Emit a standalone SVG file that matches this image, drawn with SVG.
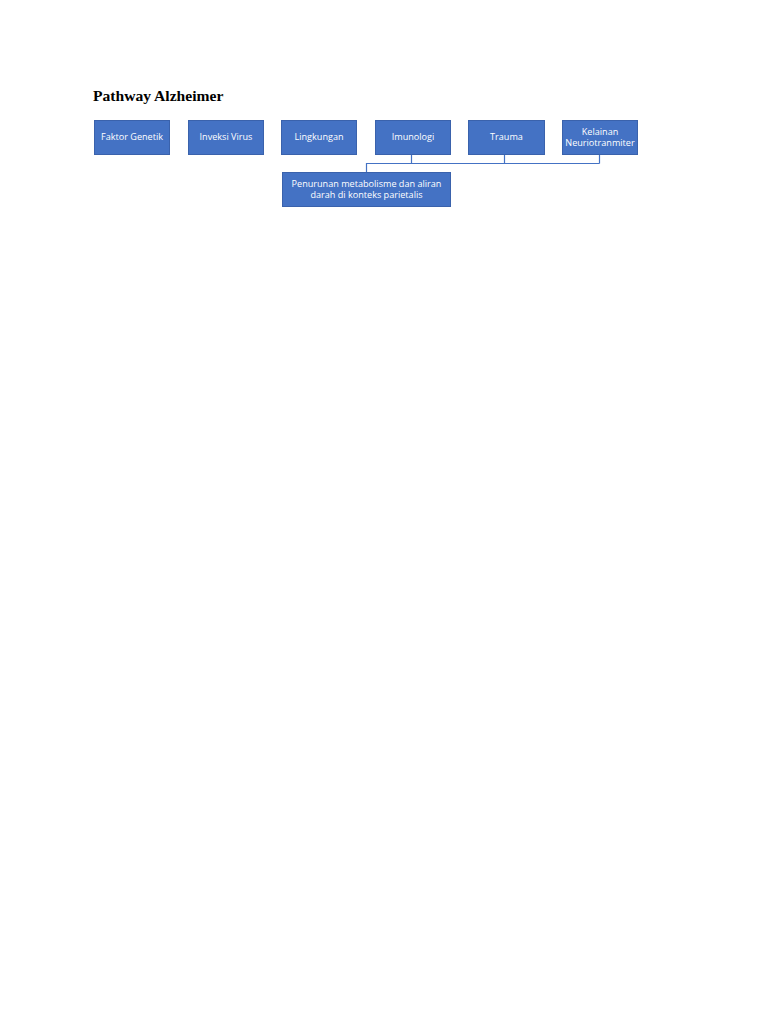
<svg xmlns="http://www.w3.org/2000/svg" width="768" height="1024" viewBox="0 0 768 1024">
<style>
.box{fill:#4472C4;stroke:#3A62AC;stroke-width:1}
.lbl{font-family:"Open Sans","Noto Sans","Liberation Sans",sans-serif;font-size:9.1px;fill:#ffffff;text-anchor:middle}
.conn{fill:none;stroke:#4472C4;stroke-width:1.2}
</style>
<rect width="768" height="1024" fill="#ffffff"/>
<text x="93" y="101" font-family="Liberation Serif,serif" font-weight="bold" font-size="15.6px" fill="#000">Pathway Alzheimer</text>
<g id="connectors">
<path class="conn" d="M411.5 155V163.5M504.5 155V163.5M599.5 155V163.5M366.5 172V163.5H599.5"/>
</g>
<g id="n1"><rect class="box" x="94.5" y="120.5" width="75" height="34"/><text class="lbl" x="132" y="140">Faktor Genetik</text></g>
<g id="n2"><rect class="box" x="188.5" y="120.5" width="75" height="34"/><text class="lbl" x="226" y="140">Inveksi Virus</text></g>
<g id="n3"><rect class="box" x="281.5" y="120.5" width="75" height="34"/><text class="lbl" x="319" y="140">Lingkungan</text></g>
<g id="n4"><rect class="box" x="375.5" y="120.5" width="75" height="34"/><text class="lbl" x="413" y="140">Imunologi</text></g>
<g id="n5"><rect class="box" x="468.5" y="120.5" width="76" height="34"/><text class="lbl" x="506.5" y="140">Trauma</text></g>
<g id="n6"><rect class="box" x="562.5" y="120.5" width="75" height="34"/><text class="lbl" x="600" y="135">Kelainan</text><text class="lbl" x="600" y="146">Neuriotranmiter</text></g>
<g id="n7"><rect class="box" x="282.5" y="172.5" width="168" height="34"/><text class="lbl" x="366.5" y="187">Penurunan metabolisme dan aliran</text><text class="lbl" x="366.5" y="198">darah di konteks parietalis</text></g>
</svg>
